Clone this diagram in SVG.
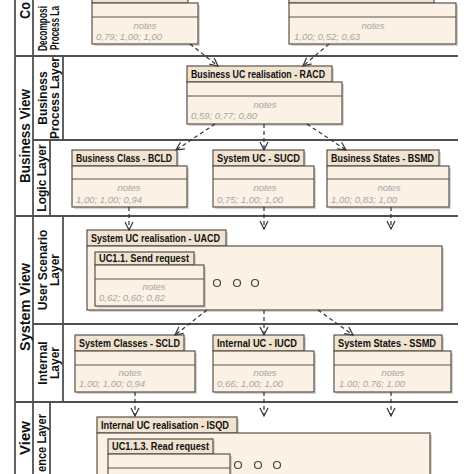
<svg xmlns="http://www.w3.org/2000/svg" width="474" height="474" viewBox="0 0 474 474">
<style>
.bg{fill:#ffffff}
.lane{stroke:#505050;stroke-width:1.8;fill:none}
.vl{font-family:"Liberation Sans",Arial,sans-serif;font-weight:bold;font-size:15px;fill:#111}
.ll{font-family:"Liberation Sans",Arial,sans-serif;font-weight:bold;font-size:12px;fill:#111}
.sh{fill:#c9c2ba;opacity:0.7}
.tab{fill:#f0e3d0;stroke:#5a524b;stroke-width:1.2}
.body{fill:#fbf1e4;stroke:#5a524b;stroke-width:1.2}
.div{stroke:#5a524b;stroke-width:1.1}
.t{font-family:"Liberation Sans",Arial,sans-serif;font-weight:bold;font-size:10px;fill:#111}
.n{font-family:"Liberation Sans",Arial,sans-serif;font-style:italic;font-size:9.5px;fill:#a6a6a6}
.dot{fill:none;stroke:#4a423c;stroke-width:1.2}
.c{stroke:#333;stroke-width:1.2;stroke-dasharray:4,3;fill:none}
</style>
<defs>
<marker id="arr" markerUnits="userSpaceOnUse" markerWidth="12" markerHeight="12" refX="9" refY="5" orient="auto">
<path d="M1,1 L9,5 L1,9" fill="none" stroke="#333" stroke-width="1.2"/>
</marker>
</defs>
<rect class="bg" x="0" y="0" width="474" height="474"/>
<g id="lanes">
<line class="lane" x1="15" y1="0" x2="15" y2="474"/>
<line class="lane" x1="33" y1="0" x2="33" y2="474"/>
<line class="lane" x1="63" y1="56" x2="63" y2="140"/>
<line class="lane" x1="50" y1="140" x2="50" y2="216"/>
<line class="lane" x1="63" y1="216" x2="63" y2="402"/>
<line class="lane" x1="50" y1="402" x2="50" y2="474"/>
<line class="lane" x1="15" y1="56" x2="458" y2="56"/>
<line class="lane" x1="33" y1="140" x2="458" y2="140"/>
<line class="lane" x1="15" y1="216" x2="458" y2="216"/>
<line class="lane" x1="33" y1="324" x2="458" y2="324"/>
<line class="lane" x1="15" y1="402" x2="458" y2="402"/>
<text class="vl" transform="translate(30,19) rotate(-90)" textLength="17" lengthAdjust="spacingAndGlyphs">Co</text>
<text class="vl" transform="translate(30,136) rotate(-90)" text-anchor="middle" textLength="94" lengthAdjust="spacingAndGlyphs">Business View</text>
<text class="vl" transform="translate(30,307) rotate(-90)" text-anchor="middle" textLength="88" lengthAdjust="spacingAndGlyphs">System View</text>
<text class="vl" transform="translate(30,421) rotate(-90)" text-anchor="end">View</text>
<text class="ll" transform="translate(47,51) rotate(-90)" textLength="45" lengthAdjust="spacingAndGlyphs">Decomposi</text>
<text class="ll" transform="translate(59,50) rotate(-90)" textLength="44" lengthAdjust="spacingAndGlyphs">Process La</text>
<text class="ll" transform="translate(47,98) rotate(-90)" text-anchor="middle">Business</text>
<text class="ll" transform="translate(59,98) rotate(-90)" text-anchor="middle">Process Layer</text>
<text class="ll" transform="translate(46,178) rotate(-90)" text-anchor="middle">Logic Layer</text>
<text class="ll" transform="translate(47,270) rotate(-90)" text-anchor="middle">User Scenario</text>
<text class="ll" transform="translate(59,270) rotate(-90)" text-anchor="middle">Layer</text>
<text class="ll" transform="translate(47,363) rotate(-90)" text-anchor="middle">Internal</text>
<text class="ll" transform="translate(59,363) rotate(-90)" text-anchor="middle">Layer</text>
<text class="ll" transform="translate(46,414) rotate(-90)" text-anchor="end" textLength="58" lengthAdjust="spacingAndGlyphs">ence Layer</text>
</g>
<g id="node-top-left">
<rect class="sh" x="94" y="5" width="106" height="41"/>
<rect class="tab" x="92" y="-13" width="96" height="16"/>
<rect class="body" x="92" y="3" width="106" height="41"/>
<line class="div" x1="92" y1="17" x2="198" y2="17"/>
<text class="n" x="145" y="29" text-anchor="middle">notes</text>
<text class="n" x="96" y="40">0,79; 1,00; 1,00</text>
</g>
<g id="node-top-right">
<rect class="sh" x="291" y="5" width="167" height="41"/>
<rect class="tab" x="289" y="-13" width="145" height="16"/>
<rect class="body" x="289" y="3" width="167" height="41"/>
<line class="div" x1="289" y1="17" x2="456" y2="17"/>
<text class="n" x="373" y="29" text-anchor="middle">notes</text>
<text class="n" x="294" y="40">1,00; 0,52; 0,63</text>
</g>
<g id="node-racd">
<rect class="sh" x="189" y="68" width="145" height="16"/>
<rect class="sh" x="189" y="84" width="155" height="42"/>
<rect class="tab" x="187" y="66" width="145" height="16"/>
<rect class="body" x="187" y="82" width="155" height="42"/>
<line class="div" x1="187" y1="96" x2="342" y2="96"/>
<text class="t" x="191" y="78" textLength="134" lengthAdjust="spacingAndGlyphs">Business UC realisation - RACD</text>
<text class="n" x="265" y="108" text-anchor="middle">notes</text>
<text class="n" x="191" y="119">0,59; 0,77; 0,80</text>
</g>
<g id="node-bcld">
<rect class="sh" x="74" y="152" width="105" height="16"/>
<rect class="sh" x="74" y="168" width="115" height="41"/>
<rect class="tab" x="72" y="150" width="105" height="16"/>
<rect class="body" x="72" y="166" width="115" height="41"/>
<line class="div" x1="72" y1="179" x2="187" y2="179"/>
<text class="t" x="76" y="162" textLength="96" lengthAdjust="spacingAndGlyphs">Business Class - BCLD</text>
<text class="n" x="129" y="191" text-anchor="middle">notes</text>
<text class="n" x="76" y="203">1,00; 1,00; 0,94</text>
</g>
<g id="node-sucd">
<rect class="sh" x="215" y="152" width="91" height="16"/>
<rect class="sh" x="215" y="168" width="101" height="41"/>
<rect class="tab" x="213" y="150" width="91" height="16"/>
<rect class="body" x="213" y="166" width="101" height="41"/>
<line class="div" x1="213" y1="179" x2="314" y2="179"/>
<text class="t" x="217" y="162" textLength="83" lengthAdjust="spacingAndGlyphs">System UC - SUCD</text>
<text class="n" x="265" y="191" text-anchor="middle">notes</text>
<text class="n" x="217" y="203">0,75; 1,00; 1,00</text>
</g>
<g id="node-bsmd">
<rect class="sh" x="329" y="152" width="112" height="16"/>
<rect class="sh" x="329" y="168" width="122" height="41"/>
<rect class="tab" x="327" y="150" width="112" height="16"/>
<rect class="body" x="327" y="166" width="122" height="41"/>
<line class="div" x1="327" y1="179" x2="449" y2="179"/>
<text class="t" x="331" y="162" textLength="103" lengthAdjust="spacingAndGlyphs">Business States - BSMD</text>
<text class="n" x="389" y="191" text-anchor="middle">notes</text>
<text class="n" x="331" y="203">1,00; 0,83; 1,00</text>
</g>
<g id="node-uacd">
<rect class="sh" x="89" y="232" width="139" height="16"/>
<rect class="sh" x="89" y="248" width="355" height="64"/>
<rect class="tab" x="87" y="230" width="139" height="16"/>
<rect class="body" x="87" y="246" width="355" height="64"/>
<text class="t" x="91" y="242" textLength="129" lengthAdjust="spacingAndGlyphs">System UC realisation - UACD</text>
<g id="node-uc11">
<rect class="sh" x="97" y="254" width="99" height="13"/>
<rect class="sh" x="97" y="267" width="109" height="41"/>
<rect class="tab" x="95" y="252" width="99" height="13"/>
<rect class="body" x="95" y="265" width="109" height="41"/>
<line class="div" x1="95" y1="279" x2="204" y2="279"/>
<text class="t" x="99" y="262" textLength="90" lengthAdjust="spacingAndGlyphs">UC1.1. Send request</text>
<text class="n" x="154" y="290" text-anchor="middle">notes</text>
<text class="n" x="99" y="301">0,62; 0,60; 0,82</text>
</g>
<circle class="dot" cx="217" cy="283" r="3.5"/>
<circle class="dot" cx="237" cy="283" r="3.5"/>
<circle class="dot" cx="255" cy="283" r="3.5"/>
</g>
<g id="node-scld">
<rect class="sh" x="77" y="337" width="109" height="16"/>
<rect class="sh" x="77" y="353" width="120" height="41"/>
<rect class="tab" x="75" y="335" width="109" height="16"/>
<rect class="body" x="75" y="351" width="120" height="41"/>
<line class="div" x1="75" y1="365" x2="195" y2="365"/>
<text class="t" x="79" y="347" textLength="101" lengthAdjust="spacingAndGlyphs">System Classes - SCLD</text>
<text class="n" x="130" y="376" text-anchor="middle">notes</text>
<text class="n" x="79" y="387">1,00; 1,00; 0,94</text>
</g>
<g id="node-iucd">
<rect class="sh" x="215" y="337" width="91" height="16"/>
<rect class="sh" x="215" y="353" width="101" height="41"/>
<rect class="tab" x="213" y="335" width="91" height="16"/>
<rect class="body" x="213" y="351" width="101" height="41"/>
<line class="div" x1="213" y1="365" x2="314" y2="365"/>
<text class="t" x="217" y="347" textLength="80" lengthAdjust="spacingAndGlyphs">Internal UC - IUCD</text>
<text class="n" x="265" y="376" text-anchor="middle">notes</text>
<text class="n" x="217" y="387">0,66; 1,00; 1,00</text>
</g>
<g id="node-ssmd">
<rect class="sh" x="336" y="337" width="108" height="16"/>
<rect class="sh" x="336" y="353" width="117" height="41"/>
<rect class="tab" x="334" y="335" width="108" height="16"/>
<rect class="body" x="334" y="351" width="117" height="41"/>
<line class="div" x1="334" y1="365" x2="451" y2="365"/>
<text class="t" x="338" y="347" textLength="98" lengthAdjust="spacingAndGlyphs">System States - SSMD</text>
<text class="n" x="393" y="376" text-anchor="middle">notes</text>
<text class="n" x="339" y="387">1.00; 0.76; 1.00</text>
</g>
<g id="node-isqd">
<rect class="sh" x="99" y="419" width="140" height="16"/>
<rect class="sh" x="99" y="435" width="333" height="50"/>
<rect class="tab" x="97" y="417" width="140" height="16"/>
<rect class="body" x="97" y="433" width="333" height="50"/>
<text class="t" x="101" y="429" textLength="128" lengthAdjust="spacingAndGlyphs">Internal UC realisation - ISQD</text>
<g id="node-uc113">
<rect class="sh" x="110" y="441" width="105" height="15"/>
<rect class="sh" x="110" y="456" width="122" height="30"/>
<rect class="tab" x="108" y="439" width="105" height="15"/>
<rect class="body" x="108" y="454" width="122" height="30"/>
<line class="div" x1="108" y1="468" x2="230" y2="468"/>
<text class="t" x="112" y="450" textLength="97" lengthAdjust="spacingAndGlyphs">UC1.1.3. Read request</text>
</g>
<circle class="dot" cx="238" cy="465" r="3.5"/>
<circle class="dot" cx="258" cy="465" r="3.5"/>
<circle class="dot" cx="277" cy="465" r="3.5"/>
</g>
<g id="connectors">
<line class="c" x1="190" y1="44" x2="218" y2="66" marker-end="url(#arr)"/>
<line class="c" x1="329" y1="44" x2="303" y2="66" marker-end="url(#arr)"/>
<line class="c" x1="215" y1="124" x2="176" y2="150" marker-end="url(#arr)"/>
<line class="c" x1="264" y1="124" x2="264" y2="150" marker-end="url(#arr)"/>
<line class="c" x1="307" y1="124" x2="346" y2="150" marker-end="url(#arr)"/>
<line class="c" x1="129" y1="207" x2="129" y2="230" marker-end="url(#arr)"/>
<line class="c" x1="264" y1="207" x2="264" y2="229" marker-end="url(#arr)"/>
<line class="c" x1="391" y1="207" x2="391" y2="229" marker-end="url(#arr)"/>
<line class="c" x1="207" y1="310" x2="175" y2="335" marker-end="url(#arr)"/>
<line class="c" x1="264" y1="310" x2="264" y2="335" marker-end="url(#arr)"/>
<line class="c" x1="318" y1="310" x2="353" y2="335" marker-end="url(#arr)"/>
<line class="c" x1="135" y1="392" x2="135" y2="416" marker-end="url(#arr)"/>
<line class="c" x1="264" y1="392" x2="264" y2="416" marker-end="url(#arr)"/>
<line class="c" x1="391" y1="392" x2="391" y2="416" marker-end="url(#arr)"/>
</g>
</svg>
